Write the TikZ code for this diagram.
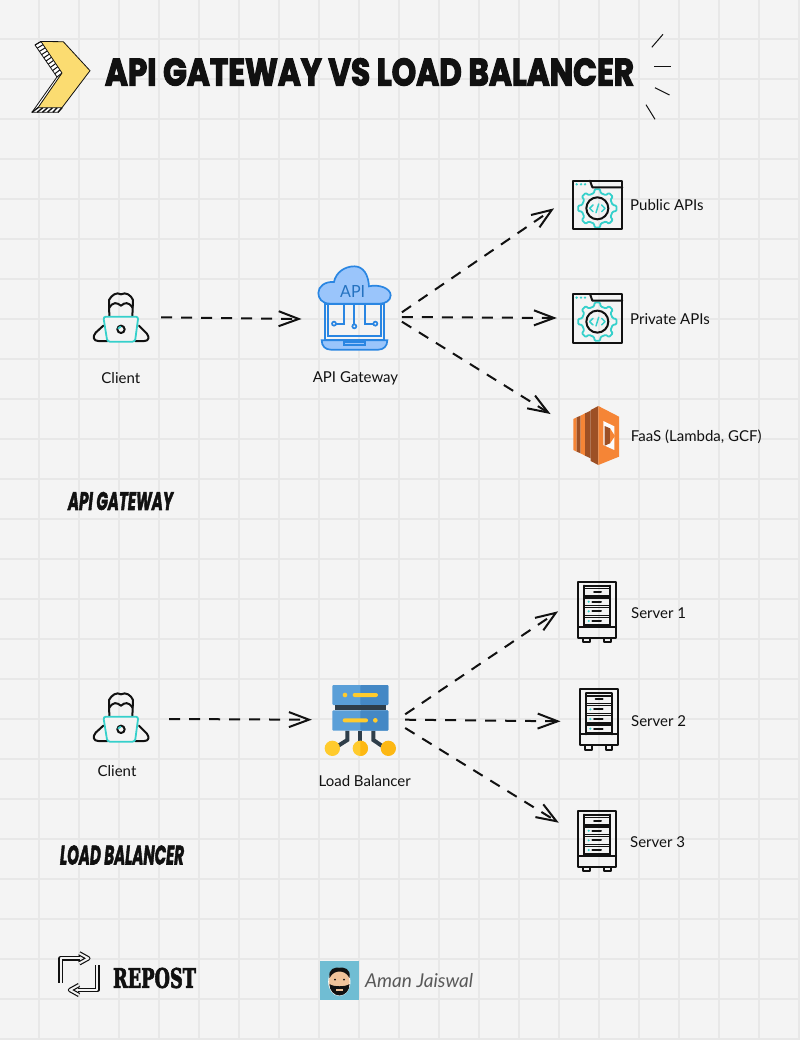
\documentclass[tikz,border=0pt]{standalone}
\usepackage{graphicx}
\usepackage{fontspec}
\usetikzlibrary{arrows.meta,calc}
\setmainfont{Lato}
\newfontfamily\displayfont[BoldFeatures={FakeBold=3.5},BoldItalicFeatures={FakeBold=2.5}]{Poppins}
\newfontfamily\repostfont[BoldFeatures={FakeBold=3}]{DejaVu Serif}
\definecolor{paper}{HTML}{F4F4F4}
\definecolor{gridgray}{HTML}{E8E8E8}
\definecolor{inkblack}{HTML}{111111}
\definecolor{tealmark}{HTML}{35D0CB}
\definecolor{apiblue}{HTML}{2A86E2}
\definecolor{apifill}{HTML}{9AC5FB}
\definecolor{lblight}{HTML}{5A9FD8}
\definecolor{lbdark}{HTML}{4488C5}
\definecolor{lbstrip}{HTML}{2F3E4A}
\definecolor{dotlight}{HTML}{FFCB2D}
\definecolor{dotdark}{HTML}{FDB813}
\definecolor{awsbright}{HTML}{F58536}
\definecolor{awsdark}{HTML}{9D5025}
\definecolor{chevyellow}{HTML}{FBDC71}
\definecolor{avatarblue}{HTML}{70BDD3}
\definecolor{skintone}{HTML}{F0C39A}
\tikzset{
  gridline/.style={gridgray,line width=2pt},
  flow/.style={inkblack,line width=2pt,dash pattern=on 11pt off 9pt,-{Straight Barb[length=20pt,width=15pt]}},
  iconbox/.style={inner sep=0pt,minimum width=#1,minimum height=40pt},
  caption/.style={inkblack,font=\fontsize{15}{16}\selectfont,inner sep=0pt},
  iconline/.style={inkblack,line width=2pt,line cap=round,line join=round},
  tealline/.style={tealmark,line width=1.8pt,line cap=round,line join=round},
  apiline/.style={apiblue,line width=1.7pt},
  clientman/.pic={
    \begin{scope}[scale=1/3]
      \draw[iconline] (73,95) -- (72,45) .. controls (80,30) and (95,20) .. (108,28) .. controls (122,20) and (138,30) .. (144,45) -- (142,95);
      \draw[iconline] (73,68) .. controls (85,50) and (95,52) .. (108,62) .. controls (120,52) and (130,50) .. (143,68);
      \draw[iconline] (55,122) -- (32,143) .. controls (22,155) and (25,168) .. (40,168) -- (68,168);
      \draw[iconline] (162,122) -- (185,145) .. controls (195,158) and (190,168) .. (178,168) -- (150,168);
      \draw[tealline,fill=paper,rounded corners=2.5pt] (55,95) -- (160,95) -- (150,170) -- (67,170) -- cycle;
      \draw[iconline] (108,133) circle (11);
      \draw[tealline] (100,130) arc (200:270:7);
    \end{scope}
  },
  gearwindow/.pic={
    \begin{scope}[scale=1/3]
      \begin{scope}
        \clip (23,17) rectangle (172,163);
        \draw[tealline,rounded corners=1pt] (97,100) ++(-12:47)
          \foreach \a in {0,45,...,315}{ -- ($(97,100)+(\a-12:47)$) -- ($(97,100)+(\a-8:58)$) -- ($(97,100)+(\a+8:58)$) -- ($(97,100)+(\a+12:47)$) } -- cycle;
      \end{scope}
      \draw[iconline] (97,100) circle (33);
      \draw[iconline,line width=2.2pt] (23,17) rectangle (172,163);
      \draw[iconline] (75,17) -- (82,37) -- (172,37);
      \foreach \x in {35,48,60} \fill[tealmark] (\x,28) circle (4);
      \draw[tealline,line width=1.5pt] (84,90) -- (74,100) -- (84,110);
      \draw[tealline,line width=1.5pt] (110,90) -- (120,100) -- (110,110);
      \draw[tealline,line width=1.5pt] (101,87) -- (93,113);
    \end{scope}
  },
  serverrack/.pic={
    \begin{scope}[scale=1/3]
      \draw[iconline] (835,35) rectangle (948,203);
      \draw[iconline] (835,170) -- (948,170);
      \draw[iconline] (850,203) rectangle (870,217);
      \draw[iconline] (912,203) rectangle (932,217);
      \draw[iconline] (853,47) -- (853,170);
      \draw[iconline] (930,47) -- (930,170);
      \draw[iconline] (853,47) -- (930,47);
      \foreach \y in {55,84,113,142}{
        \draw[inkblack,line width=1.1pt] (853,\y) rectangle (930,\y+23);
      }
      \draw[iconline] (882,65) -- (903,65);
      \foreach \y in {95,124,153}{
        \draw[iconline] (877,\y) -- (903,\y);
        \fill[tealmark] (866,\y) circle (3.5);
      }
    \end{scope}
  },
}
\begin{document}
\begin{tikzpicture}[x=1pt,y=-1pt]
\useasboundingbox (0,0) rectangle (800,1040);
\fill[paper] (0,0) rectangle (800,1040);
% Grid behind everything
\foreach \x in {39,79,...,799} \draw[gridline] (\x,0) -- (\x,1040);
\foreach \y in {39,79,...,1039} \draw[gridline] (0,\y) -- (800,\y);

% Title with chevron and strokes
\fill[white] (35,45) -- (41,41.5) -- (62,73) -- (38,107.7) -- (62,107.7) -- (58,112.3) -- (32,112.3) -- (57,77) -- cycle;
\foreach \t in {0,0.1,...,1.01} \draw[inkblack,line width=1pt] ($(35,45)!\t!(57,77)$) -- ($(41,41.5)!\t!(62,73)$);
\foreach \t in {0,0.2,...,1.01} \draw[inkblack,line width=1.4pt] ($(32,112.3)!\t!(58,112.3)$) -- ($(38,107.7)!\t!(62,107.7)$);
\draw[inkblack,line width=0.8pt] (35,45) -- (41,41.5) (35,45) -- (57,77) -- (32,112.3) -- (58,112.3) -- (62,107.7);
\draw[inkblack,fill=chevyellow,line width=0.8pt] (41,41.5) -- (63.3,41.7) -- (90,70.7) -- (62,107.7) -- (38,107.7) -- (62,73) -- cycle;
\node[inkblack,inner sep=0pt] (title) at (369.5,72) {\resizebox{529pt}{27pt}{\displayfont\bfseries API GATEWAY VS LOAD BALANCER}};
\draw[inkblack,line width=1pt] (663,34.3) -- (651.8,47.3);
\draw[inkblack,line width=1pt] (654,67) -- (670.5,67);
\draw[inkblack,line width=1pt] (654.9,87.7) -- (669.6,95);
\draw[inkblack,line width=1pt] (646,104.7) -- (655,119.3);

% API gateway side
\node[iconbox=80pt] (clientA) at (121,317.3) {};
\pic at (85,285) {clientman};
\node[caption] (clientAtext) at (120.8,378.3) {Client};

\node[iconbox=100pt] (gateway) at (351.7,317) {};
\begin{scope}[shift={(310,258)},scale=1/3]
  \draw[apiline,fill=apifill] (35,247) -- (232,247) .. controls (232,265) and (220,275) .. (205,275) -- (62,275) .. controls (47,275) and (35,265) .. (35,247) -- cycle;
  \draw[apiline] (102,252) rectangle (165,262);
  \draw[apiline] (45,137) rectangle (222,245);
  \draw[apiline] (55,137) rectangle (212,235);
  \draw[apiline] (103,137) -- (103,197) -- (78,197);
  \draw[apiline] (133,137) -- (133,199);
  \draw[apiline] (165,137) -- (165,197) -- (190,197);
  \draw[apiline] (72,197) circle (6);
  \draw[apiline] (133,205) circle (6);
  \draw[apiline] (196,197) circle (6);
  \draw[apiline,fill=apifill] (60,137) .. controls (35,137) and (25,120) .. (25,105) .. controls (25,85) and (45,70) .. (72,72) .. controls (78,42) and (105,25) .. (133,25) .. controls (160,25) and (175,50) .. (177,85) .. controls (205,78) and (242,90) .. (242,112) .. controls (242,128) and (225,137) .. (210,137) -- cycle;
  \node[apiblue!85!black,inner sep=0pt] (apimark) at (128,100) {\resizebox{25pt}{12pt}{API}};
\end{scope}
\node[caption] (gatewaytext) at (355.5,378) {API Gateway};
\draw[flow] (clientA.east) -- ([yshift=-2pt]gateway.west);

\node[iconbox=85.4pt] (publicapi) at (597,205) {};
\pic at (565,175) {gearwindow};
\node[caption,anchor=west] (publictext) at (630,205) {Public APIs};
\node[iconbox=85.4pt] (privateapi) at (599.7,318) {};
\pic at (565,288.3) {gearwindow};
\node[caption,anchor=west] (privatetext) at (630,319) {Private APIs};
\node[iconbox=85.4pt] (faas) at (593.4,414) {};
\begin{scope}[shift={(565,400)},scale=1/3]
  \fill[awsbright] (25,57) -- (35,52) -- (35,155) -- (25,150) -- cycle;
  \fill[awsdark] (35,52) -- (47,47) -- (47,160) -- (35,155) -- cycle;
  \fill[awsbright] (47,47) -- (60,40) -- (60,167) -- (47,160) -- cycle;
  \fill[awsdark] (60,40) -- (77,32) -- (77,175) -- (60,167) -- cycle;
  \fill[awsdark] (77,30) -- (100,18) -- (100,195) -- (77,183) -- cycle;
  \fill[awsbright] (100,18) -- (162,50) -- (162,170) -- (100,195) -- cycle;
  \fill[white!70!paper] (115,63) -- (148,79) -- (148,150) -- (115,135) -- cycle;
  \fill[awsdark] (119,78) -- (135,85) -- (135,130) -- (119,137) -- cycle;
  \fill[awsbright] (135,85) -- (150,108) -- (135,130) -- cycle;
\end{scope}
\node[caption,anchor=west] (faastext) at (630.7,436.7) {FaaS (Lambda, GCF)};
\draw[flow] ([yshift=4.7pt]gateway.east) -- ([yshift=-3.3pt]publicapi.west);
\draw[flow] (gateway.east) -- (privateapi.west);
\draw[flow] ([yshift=-4.7pt]gateway.east) -- (faas.west);

\node[inkblack,inner sep=0pt] (apihead) at (120.5,501) {\resizebox{105pt}{18pt}{\displayfont\bfseries\itshape API GATEWAY}};

% Load balancer side
\node[iconbox=96pt] (clientB) at (121,719) {};
\pic at (85,685) {clientman};
\node[caption] (clientBtext) at (117,771) {Client};

\node[iconbox=93pt] (balancer) at (358.5,719.7) {};
\begin{scope}[shift={(300,570)},scale=1/3]
  \draw[lbstrip,line width=4pt] (142,482) -- (142,510) -- (115,527);
  \draw[lbstrip,line width=4pt] (181,482) -- (181,520);
  \draw[lbstrip,line width=4pt] (220,482) -- (220,510) -- (245,527);
  \fill[lblight,rounded corners=1pt] (97,345) rectangle (265,405);
  \fill[lbdark,rounded corners=1pt] (181,345) rectangle (265,405);
  \fill[lblight,rounded corners=1pt] (97,421) rectangle (265,482);
  \fill[lbdark,rounded corners=1pt] (181,421) rectangle (265,482);
  \fill[lbstrip] (105,405) rectangle (257,421);
  \fill[dotlight] (135,375) circle (7);
  \fill[dotlight,rounded corners=2pt] (158,369) rectangle (234,381);
  \fill[dotlight,rounded corners=2pt] (128,445) rectangle (204,457);
  \fill[dotlight] (226,451) circle (7);
  \fill[dotlight] (97,535) circle (23);
  \fill[dotlight] (181,535) circle (23);
  \fill[dotdark] (265,535) circle (23);
  \fill[dotdark] (181,512) arc (-90:90:23) -- cycle;
\end{scope}
\node[caption] (balancertext) at (364.7,780.7) {Load Balancer};
\draw[flow] (clientB.east) -- (balancer.west);

\node[iconbox=77.6pt] (serverA) at (597.1,611.3) {};
\pic at (300,570) {serverrack};
\node[caption,anchor=west] (serverAtext) at (631,612.7) {Server 1};
\node[iconbox=77.6pt] (serverB) at (599.5,721.3) {};
\pic at (301.7,677.7) {serverrack};
\node[caption,anchor=west] (serverBtext) at (631,720.7) {Server 2};
\node[iconbox=77.6pt] (serverC) at (597.8,822.7) {};
\pic at (300,799) {serverrack};
\node[caption,anchor=west] (serverCtext) at (630,842.3) {Server 3};
\draw[flow] ([yshift=5.4pt]balancer.east) -- (serverA.west);
\draw[flow] (balancer.east) -- (serverB.west);
\draw[flow] ([yshift=-8.3pt]balancer.east) -- (serverC.west);

\node[inkblack,inner sep=0pt] (lbhead) at (122,855) {\resizebox{124pt}{19pt}{\displayfont\bfseries\itshape LOAD BALANCER}};

% Footer
\begin{scope}[shift={(40,940)},scale=1/3]
  \draw[inkblack,line width=1.2pt,double=paper,double distance=2pt,line join=round] (62,128) -- (62,55) -- (120,55);
  \draw[inkblack,line width=1.2pt,double=paper,double distance=2pt,line join=round] (118,40) -- (145,55) -- (118,70);
  \draw[inkblack,line width=1.2pt,double=paper,double distance=2pt,line join=round] (172,75) -- (172,150) -- (115,150);
  \draw[inkblack,line width=1.2pt,double=paper,double distance=2pt,line join=round] (117,135) -- (90,150) -- (117,165);
\end{scope}
\node[inkblack,inner sep=0pt] (repost) at (154.5,978) {\resizebox{83pt}{20pt}{\repostfont\bfseries REPOST}};
\fill[avatarblue] (320,961) rectangle (359,1000);
\draw[white,fill=skintone,line width=0.8pt] (339.3,981.8) ellipse (10.7 and 13.8);
\fill[inkblack] (329.5,978) .. controls (328,968) and (335,967.5) .. (339.5,967.5) .. controls (344,967.5) and (351,968) .. (349.5,978) .. controls (347,973) and (343,971.5) .. (339.5,971.5) .. controls (336,971.5) and (332,973) .. (329.5,978) -- cycle;
\fill[inkblack] (329.5,984) .. controls (333,987) and (346,987) .. (349.5,984) .. controls (350,990) and (345,995.5) .. (339.5,995.5) .. controls (334,995.5) and (329,990) .. (329.5,984) -- cycle;
\fill[skintone] (336,989) rectangle (343,990.5);
\fill[inkblack] (335,979.5) circle (1) (344,979.5) circle (1);
\node[anchor=west,inner sep=0pt] (signature) at (365,981) {\resizebox{108pt}{!}{\color{black!65}\rmfamily\itshape Aman Jaiswal}};
\end{tikzpicture}
\end{document}
